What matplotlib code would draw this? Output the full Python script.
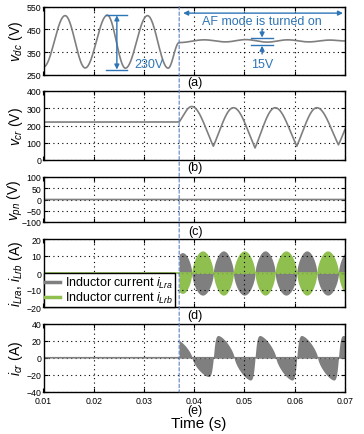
"""
AF mode transition waveforms: vdc, vcr, vpn, inductor currents and icr.
"""

import matplotlib
matplotlib.use("Agg")
import matplotlib.pyplot as plt
from matplotlib.patches import ConnectionPatch
import numpy as np

plt.rcParams["font.family"] = ["Liberation Sans", "DejaVu Sans"]
plt.rcParams["mathtext.fontset"] = "custom"
plt.rcParams["mathtext.it"] = "Liberation Sans:italic"
plt.rcParams["mathtext.rm"] = "Liberation Sans"

GRAY = "#7f7f7f"
GREEN = "#8fbf4f"
BLUE = "#2e75b6"
DASH = "#5b7fbf"

# ---- data ------------------------------------------------------------------
t_on = 0.0370  # AF mode switched on

# (a) dc-link voltage: extrema (s, V)
vdc_t = [0.0100, 0.0143, 0.0183, 0.0227, 0.0263, 0.0307, 0.0348, 0.0370,
         0.0420, 0.0462, 0.0503, 0.0545, 0.0586, 0.0628, 0.0670, 0.0700]
vdc_v = [285, 510, 281, 512, 280, 510, 280, 392,
         404, 395, 405, 394, 404, 395, 403, 399]

# (b) resonant capacitor voltage: flat before t_on, then extrema
vcr_flat = 220
vcr_t = [0.0370, 0.0395, 0.0438, 0.0478, 0.0521, 0.0561, 0.0604, 0.0644, 0.0687, 0.0728]
vcr_v = [220, 310, 80, 303, 70, 303, 80, 303, 88, 303]

# (c) vpn stays at zero
vpn_v = 0

# (d) inductor current envelope lobes: boundaries and peak amplitude (A)
lobe_edges = [0.0358, 0.0395, 0.0438, 0.0478, 0.0521, 0.0561, 0.0604, 0.0644, 0.0687, 0.0727]
lobe_amp = [12, 13, 13, 13, 13, 13, 13, 13, 13]

# (e) icr envelope: jump instants (vcr troughs) and lobe amplitude (A)
icr_edges = [0.0353, 0.0438, 0.0521, 0.0604, 0.0687, 0.0770]
icr_amp = [22, 26, 26, 26, 26]

xticks = [0.01, 0.02, 0.03, 0.04, 0.05, 0.06, 0.07]

# ---- build curves -----------------------------------------------------------
t = np.linspace(0.01, 0.07, 6001)


def cos_join(t, tk, vk):
    """Join extrema with half-cosine segments (rounded peaks and troughs)."""
    y = np.full_like(t, np.nan)
    for t0, t1, v0, v1 in zip(tk[:-1], tk[1:], vk[:-1], vk[1:]):
        m = (t >= t0) & (t <= t1)
        u = (t[m] - t0) / (t1 - t0)
        y[m] = v0 + (v1 - v0) * (1 - np.cos(np.pi * u)) / 2
    return y


def trough_sharp_join(t, tk, vk, mix=0.75):
    """Rounded at the high end, nearly sharp at the low end."""
    y = np.full_like(t, np.nan)
    for t0, t1, v0, v1 in zip(tk[:-1], tk[1:], vk[:-1], vk[1:]):
        m = (t >= t0) & (t <= t1)
        u = (t[m] - t0) / (t1 - t0)
        half = (1 - np.cos(np.pi * u)) / 2
        if v1 > v0:
            s = mix * np.sin(np.pi / 2 * u) + (1 - mix) * half
            y[m] = v0 + (v1 - v0) * s
        else:
            s = mix * np.cos(np.pi / 2 * u) + (1 - mix) * (1 - half)
            y[m] = v1 + (v0 - v1) * s
    return y


vdc = cos_join(t, vdc_t, vdc_v)

vcr = trough_sharp_join(t, vcr_t, vcr_v)
vcr[t < t_on] = vcr_flat

ila = np.zeros_like(t)
for k, (t0, t1) in enumerate(zip(lobe_edges[:-1], lobe_edges[1:])):
    m = (t >= t0) & (t <= t1)
    u = (t[m] - t0) / (t1 - t0)
    ila[m] = (1 if k % 2 == 0 else -1) * lobe_amp[k] * np.sin(np.pi * u) ** 0.6
ila[t < t_on] = 0
ilb = -ila

uu = np.linspace(0, 1, 1001)
w = 0.05


def icr_shape(u):
    c = np.cos(np.pi * u)
    return np.sign(c) * np.abs(c) ** 0.7 * np.tanh(u / w) * np.tanh((1 - u) / w)


shape_max = np.max(icr_shape(uu))
icr = np.zeros_like(t)
for k, (t0, t1) in enumerate(zip(icr_edges[:-1], icr_edges[1:])):
    m = (t >= t0) & (t < t1)
    u = (t[m] - t0) / (t1 - t0)
    icr[m] = icr_amp[k] * icr_shape(u) / shape_max
icr[t < t_on] = 0

# ---- figure -------------------------------------------------------------------
W, H = 364, 435
fig = plt.figure(figsize=(W / 100, H / 100), dpi=100)


def make_ax(top, bottom):
    return fig.add_axes([43.5 / W, 1 - bottom / H, 301.5 / W, (bottom - top) / H])


ax_a = make_ax(7.5, 76)
ax_b = make_ax(92, 161)
ax_c = make_ax(178, 223)
ax_d = make_ax(240, 308)
ax_e = make_ax(324.5, 393)
axes = [ax_a, ax_b, ax_c, ax_d, ax_e]

ax_a.plot(t, vdc, color=GRAY, lw=1.2)
ax_b.plot(t, vcr, color=GRAY, lw=1.2)
ax_c.plot(t, np.full_like(t, vpn_v), color=GRAY, lw=1.2)

ax_d.fill_between(t, 0, ila, color=GRAY, lw=0)
ax_d.fill_between(t, 0, ilb, color=GREEN, lw=0)
ax_d.plot(t, np.zeros_like(t), color=GREEN, lw=1.2)
ax_d.plot([], [], color=GRAY, lw=2.5, label=r"Inductor current $i_{Lra}$")
ax_d.plot([], [], color=GREEN, lw=2.5, label=r"Inductor current $i_{Lrb}$")
leg = ax_d.legend(loc="lower left", borderaxespad=0, fontsize=9, handlelength=1.2,
                  handletextpad=0.35, labelspacing=0.0, borderpad=0.15,
                  fancybox=False, framealpha=1, edgecolor="k")
leg.get_frame().set_linewidth(1.0)

ax_e.fill_between(t, 0, icr, color=GRAY, lw=0)
ax_e.plot(t, np.zeros_like(t), color=GRAY, lw=1.2)

limits = [(250, 550, [250, 350, 450, 550]),
          (0, 400, [0, 100, 200, 300, 400]),
          (-100, 100, [-100, -50, 0, 50, 100]),
          (-20, 20, [-20, -10, 0, 10, 20]),
          (-40, 40, [-40, -20, 0, 20, 40])]
ylabels = [r"$v_{dc}$ (V)", r"$v_{cr}$ (V)", r"$v_{pn}$ (V)",
           r"$i_{Lra}$, $i_{Lrb}$ (A)", r"$i_{cr}$ (A)"]
panel_tags = ["(a)", "(b)", "(c)", "(d)", "(e)"]
tag_offsets = [7, 7, 9, 8, 18]  # px below axes

for ax, (lo, hi, ticks), lab, tag, off in zip(axes, limits, ylabels, panel_tags, tag_offsets):
    ax.set_xlim(0.01, 0.07)
    ax.set_ylim(lo, hi)
    ax.set_yticks(ticks)
    ax.set_xticks(xticks)
    ax.grid(True, color="k", linestyle=(0, (1, 3)), lw=0.8)
    ax.tick_params(direction="in", length=3, labelsize=6.3, top=True, right=True, pad=1.5)
    for s in ax.spines.values():
        s.set_linewidth(1.0)
    ax.set_ylabel(lab, fontsize=10, labelpad=0)
    ax.yaxis.set_label_coords(-0.063, 0.5)
    ax.annotate(tag, xy=(0.0402, 0), xycoords=("data", "axes fraction"),
                xytext=(0, -off * 0.72), textcoords="offset points",
                ha="center", va="center", fontsize=9)
    if ax is not ax_e:
        ax.set_xticklabels([])

ax_e.set_xticklabels([f"{x:.2f}" for x in xticks])
ax_e.tick_params(axis="x", pad=3)
fig.text(199 / W, 1 - 424 / H, "Time (s)", ha="center", va="center", fontsize=11)

# dashed marker for AF mode switch-on across all panels
con = ConnectionPatch(xyA=(t_on, 550), coordsA=ax_a.transData,
                      xyB=(t_on, -40), coordsB=ax_e.transData,
                      color=DASH, lw=0.8, linestyle=(0, (3, 2)), zorder=10)
fig.add_artist(con)

# annotations on (a)
arrow = dict(arrowstyle="<|-|>", color=BLUE, lw=1.0, mutation_scale=7, shrinkA=0, shrinkB=0)
ax_a.plot([0.0224, 0.0266], [513, 513], color=BLUE, lw=1.0)
ax_a.plot([0.0224, 0.0266], [272, 272], color=BLUE, lw=1.0)
ax_a.annotate("", xy=(0.0246, 511), xytext=(0.0246, 274), arrowprops=arrow)
ax_a.text(0.0280, 300, "230V", color=BLUE, fontsize=9, ha="left", va="center")

ax_a.annotate("", xy=(0.0378, 521), xytext=(0.0696, 521), arrowprops=arrow)
ax_a.text(0.0535, 488, "AF mode is turned on", color=BLUE, fontsize=9,
          ha="center", va="center")

one_way = dict(arrowstyle="-|>", color=BLUE, lw=1.0, mutation_scale=7, shrinkA=0, shrinkB=0)
ax_a.plot([0.0512, 0.0557], [411, 411], color=BLUE, lw=1.0)
ax_a.plot([0.0512, 0.0557], [381, 381], color=BLUE, lw=1.0)
ax_a.annotate("", xy=(0.0535, 414), xytext=(0.0535, 451), arrowprops=one_way)
ax_a.annotate("", xy=(0.0535, 378), xytext=(0.0535, 342), arrowprops=one_way)
ax_a.text(0.0535, 298, "15V", color=BLUE, fontsize=9, ha="center", va="center")

fig.savefig("out.png", dpi=100)
plt.close(fig)
